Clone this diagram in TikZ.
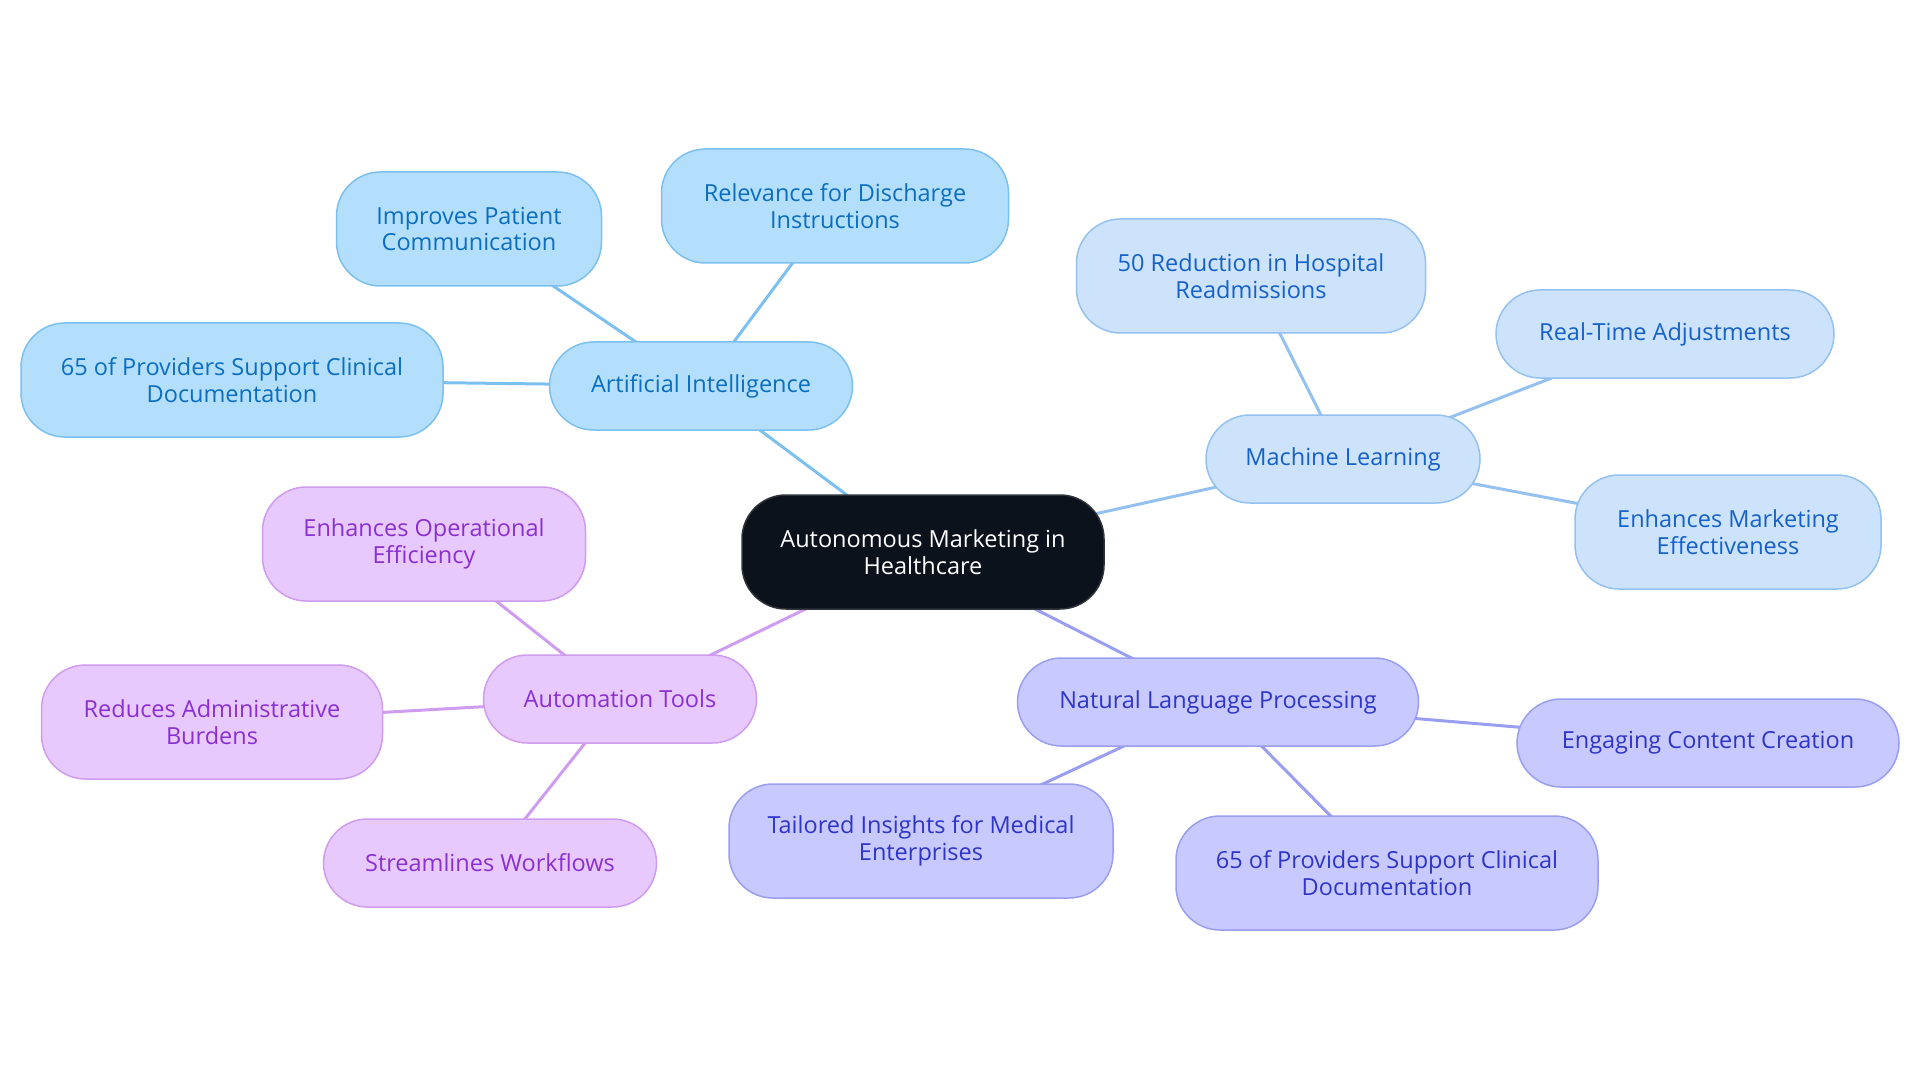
\documentclass[tikz,border=0pt]{standalone}
\usepackage{fontspec}
\setmainfont{Open Sans}
\usetikzlibrary{backgrounds}
\definecolor{aiF}{HTML}{B3DFFC}\definecolor{aiD}{HTML}{7CC0F0}\definecolor{aiT}{HTML}{0B6EBF}
\definecolor{mlF}{HTML}{CDE3FB}\definecolor{mlD}{HTML}{94C1F0}\definecolor{mlT}{HTML}{1561C8}
\definecolor{nlF}{HTML}{C8CAFF}\definecolor{nlD}{HTML}{9A9EF0}\definecolor{nlT}{HTML}{2E35C7}
\definecolor{atF}{HTML}{E8C9FD}\definecolor{atD}{HTML}{CF9CF0}\definecolor{atT}{HTML}{8A2FD0}
\definecolor{ctF}{HTML}{0C121C}
\tikzset{
  box/.style={rounded corners=44pt, line width=1.5pt, align=center, inner sep=0pt,
    font=\fontsize{23.5}{26.5}\selectfont},
  aibox/.style={box, fill=aiF, draw=aiD, text=aiT},
  mlbox/.style={box, fill=mlF, draw=mlD, text=mlT},
  nlbox/.style={box, fill=nlF, draw=nlD, text=nlT},
  autobox/.style={box, fill=atF, draw=atD, text=atT},
  ctbox/.style={box, fill=ctF, draw=ctF!70!gray, text=white},
  oneline/.style={minimum height=88pt},
  twoline/.style={minimum height=114pt},
  link/.style={line width=3pt},
}
\begin{document}
\begin{tikzpicture}[x=1pt,y=-1pt]
\useasboundingbox (0,0) rectangle (1920,1083);
\node[ctbox,twoline,minimum width=362pt] (c) at (923,552) {Autonomous Marketing in\\Healthcare};
% AI
\node[aibox,oneline,minimum width=303pt] (ai) at (701,386) {Artificial Intelligence};
\node[aibox,twoline,minimum width=265pt] (ai1) at (469,229) {Improves Patient\\Communication};
\node[aibox,twoline,minimum width=347pt] (ai2) at (835,206) {Relevance for Discharge\\Instructions};
\node[aibox,twoline,minimum width=422pt] (ai3) at (232,380) {65 of Providers Support Clinical\\Documentation};
% ML
\node[mlbox,oneline,minimum width=274pt] (ml) at (1343,459) {Machine Learning};
\node[mlbox,twoline,minimum width=349pt] (ml1) at (1251,276) {50 Reduction in Hospital\\Readmissions};
\node[mlbox,oneline,minimum width=338pt] (ml2) at (1665,334) {Real-Time Adjustments};
\node[mlbox,twoline,minimum width=306pt] (ml3) at (1728,532) {Enhances Marketing\\Effectiveness};
% NLP
\node[nlbox,oneline,minimum width=401pt] (nl) at (1218,702) {Natural Language Processing};
\node[nlbox,oneline,minimum width=382pt] (nl1) at (1708,743) {Engaging Content Creation};
\node[nlbox,twoline,minimum width=384pt] (nl2) at (921,841) {Tailored Insights for Medical\\Enterprises};
\node[nlbox,twoline,minimum width=422pt] (nl3) at (1387,873) {65 of Providers Support Clinical\\Documentation};
% Automation
\node[autobox,oneline,minimum width=273pt] (au) at (620,699) {Automation Tools};
\node[autobox,twoline,minimum width=323pt] (au1) at (424,544) {Enhances Operational\\Efficiency};
\node[autobox,twoline,minimum width=341pt] (au2) at (212,722) {Reduces Administrative\\Burdens};
\node[autobox,oneline,minimum width=333pt] (au3) at (490,863) {Streamlines Workflows};
\begin{scope}[on background layer]
\draw[link,aiD] (c.center) -- (ai.center);
\draw[link,aiD] (ai.center) -- (ai1.center);
\draw[link,aiD] (ai.center) -- (ai2.center);
\draw[link,aiD] (ai.center) -- (ai3.center);
\draw[link,mlD] (c.center) -- (ml.center);
\draw[link,mlD] (ml.center) -- (ml1.center);
\draw[link,mlD] (ml.center) -- (ml2.center);
\draw[link,mlD] (ml.center) -- (ml3.center);
\draw[link,nlD] (c.center) -- (nl.center);
\draw[link,nlD] (nl.center) -- (nl1.center);
\draw[link,nlD] (nl.center) -- (nl2.center);
\draw[link,nlD] (nl.center) -- (nl3.center);
\draw[link,atD] (c.center) -- (au.center);
\draw[link,atD] (au.center) -- (au1.center);
\draw[link,atD] (au.center) -- (au2.center);
\draw[link,atD] (au.center) -- (au3.center);
\end{scope}
\end{tikzpicture}
\end{document}
